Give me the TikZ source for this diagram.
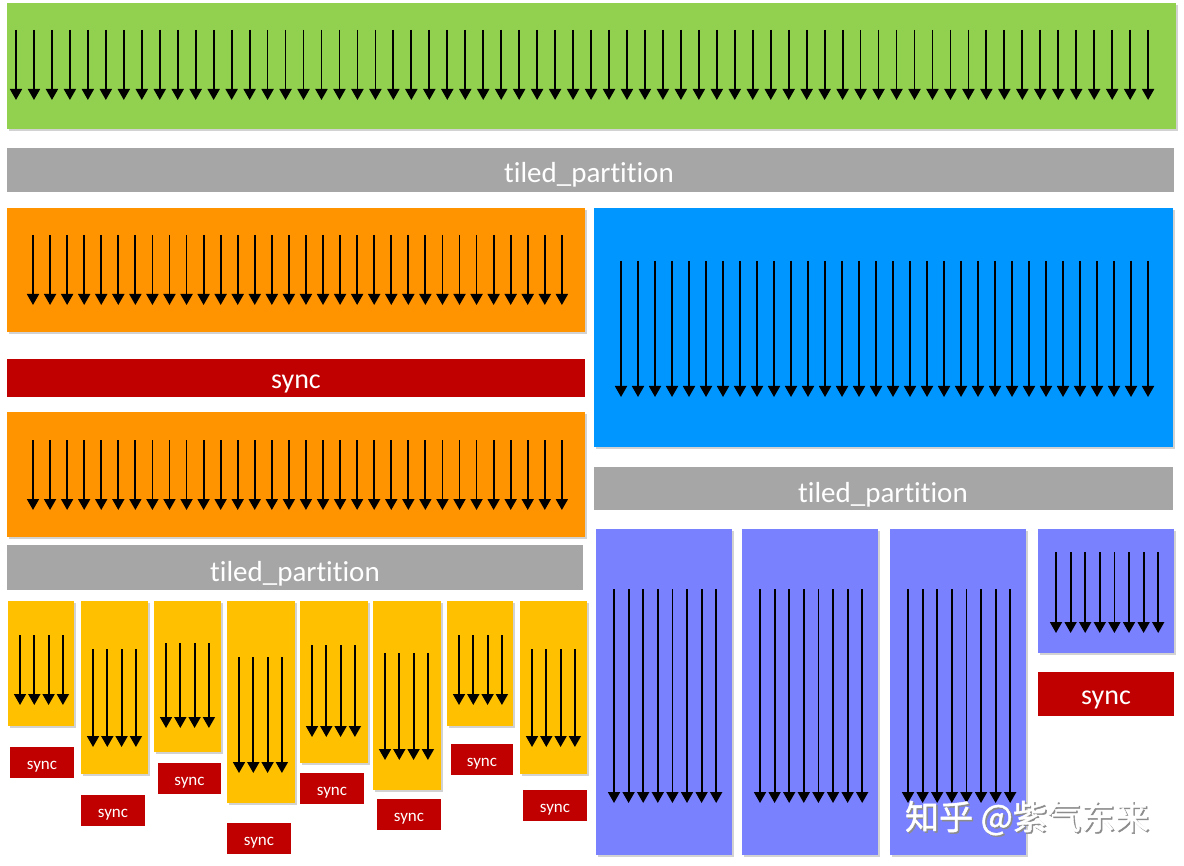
\documentclass[tikz,border=0pt]{standalone}
\usepackage{fontspec}
\setmainfont{Carlito}[Ligatures=NoCommon]
\newfontfamily\cjk[FakeBold=1.2]{Noto Sans CJK SC}
\usetikzlibrary{arrows.meta,shadows}
\definecolor{grass}{HTML}{92D050}
\definecolor{bargray}{HTML}{A6A6A6}
\definecolor{tangerine}{HTML}{FF9300}
\definecolor{syncred}{HTML}{C00000}
\definecolor{aqua}{HTML}{0096FF}
\definecolor{periwinkle}{HTML}{7A81FF}
\definecolor{amber}{HTML}{FFC000}
\tikzset{font=\fontsize{14}{16}\selectfont}
\tikzset{thread/.style={-{Triangle[length=5.5pt,width=6pt]}, line width=.9pt}}
\tikzset{panel/.style={drop shadow={opacity=.25,shadow xshift=.8pt,shadow yshift=-1.2pt,fill=black!70}}}
\tikzset{label/.style={text=white, inner sep=0pt, anchor=base}}
\tikzset{part/.style={label, font=\fontsize{14.5}{17}\selectfont}}
\tikzset{small/.style={label, font=\fontsize{8.5}{10}\selectfont}}

\begin{document}
\begin{tikzpicture}[x=.5pt,y=-.5pt]
  \useasboundingbox (0,0) rectangle (1184,866);

  % whole block
  \path[panel, fill=grass] (7,3) rectangle (1176,129);
  \foreach \k in {0,...,63}
    \draw[thread] (16+17.97*\k,30) -- (16+17.97*\k,100);

  \fill[bargray] (7,148) rectangle (1174,192);
  \node[part] (tp1) at (589,183) {tiled\_partition};

  % left half: two passes with a sync
  \path[panel, fill=tangerine] (7,208) rectangle (585,332);
  \path[panel, fill=tangerine] (7,412) rectangle (585,537);
  \foreach \k in {0,...,31} {
    \draw[thread] (33+17.06*\k,235) -- (33+17.06*\k,305);
    \draw[thread] (33+17.06*\k,440) -- (33+17.06*\k,510);
  }
  \fill[syncred] (7,359) rectangle (585,397);
  \node[label] (syncL) at (296,388) {sync};

  \fill[bargray] (7,545) rectangle (583,590);
  \node[part] (tp2) at (295,581) {tiled\_partition};

  % tiles of 4
  \foreach \n/\xl/\xr/\yb/\at/\ab/\sl/\sr/\st in
    {1/8/74/726/635/705/10/74/747,
     2/81/148/774/649/747/81/145/795,
     3/154/221/752/643/728/158/221/763,
     4/227/295/803/657/773/227/291/823,
     5/300/368/763/645/737/300/364/773,
     6/373/441/790/653/760/377/441/799,
     7/447/513/726/635/705/451/513/744,
     8/520/587/774/649/747/523/587/790} {
    \path[panel, fill=amber] (\xl,601) rectangle (\xr,\yb);
    \foreach \j in {0,...,3}
      \draw[thread] (\xl+12+14.3*\j,\at) -- (\xl+12+14.3*\j,\ab);
    \fill[syncred] (\sl,\st) rectangle (\sr,\st+31);
    \node[small] (sync\n) at ({(\sl+\sr)/2},\st+22.5) {sync};
  }

  % right half
  \path[panel, fill=aqua] (594,208) rectangle (1173,447);
  \foreach \k in {0,...,31}
    \draw[thread] (621+17.0*\k,261) -- (621+17.0*\k,397);

  \fill[bargray] (594,467) rectangle (1173,510);
  \node[part] (tp3) at (883,502) {tiled\_partition};

  % tiles of 8
  \foreach \xl/\yb/\at/\ab in {596/855/589/803, 742/855/589/803,
                               890/855/589/803, 1038/653/552/633} {
    \path[panel, fill=periwinkle] (\xl,529) rectangle (\xl+136,\yb);
    \foreach \j in {0,...,7}
      \draw[thread] (\xl+18+14.6*\j,\at) -- (\xl+18+14.6*\j,\ab);
  }
  \fill[syncred] (1038,672) rectangle (1174,716);
  \node[label] (syncR) at (1106,704) {sync};

  \node[text=black!45, font=\cjk\fontsize{17}{20}\selectfont, anchor=west] (wmshadow) at (899.5,819.5) {知乎 @紫气东来};
  \node[text=white, font=\cjk\fontsize{17}{20}\selectfont, anchor=west] (wm) at (898,818) {知乎 @紫气东来};
\end{tikzpicture}
\end{document}
